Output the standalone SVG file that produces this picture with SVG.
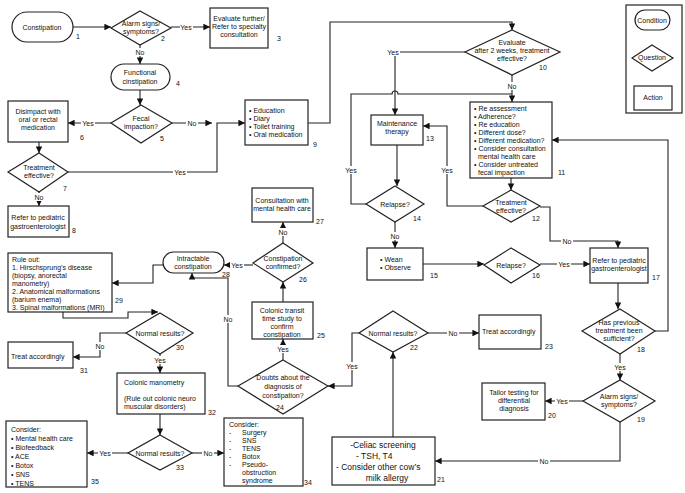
<svg xmlns="http://www.w3.org/2000/svg" width="685" height="493" viewBox="0 0 685 493">
<defs>
<marker id="a" viewBox="0 0 10 10" refX="10" refY="5" markerWidth="6" markerHeight="6" orient="auto"><path d="M0,0L10,5L0,10z" fill="#111"/></marker>
<style>
.s{fill:#fff;stroke:#222;stroke-width:1.2}
text{font-family:"Liberation Sans",Arial,sans-serif;font-size:7px;fill:#111}
.c{text-anchor:middle}
.n{font-size:7px}
.big{font-size:8.5px}
.l{fill:none;stroke:#222;stroke-width:1.1}
.lb{text-anchor:middle;font-size:7px}
.bg{fill:#fff}
</style>
</defs>
<rect width="685" height="493" fill="#fff"/>
<g id="connectors">
<path class="l" d="M73,27H111" marker-end="url(#a)"/>
<path class="l" d="M171,27H210" marker-end="url(#a)"/>
<path class="l" d="M140,45V64" marker-end="url(#a)"/>
<path class="l" d="M140,90V105" marker-end="url(#a)"/>
<path class="l" d="M111,123H68" marker-end="url(#a)"/>
<path class="l" d="M172,123H212" marker-end="url(#a)"/>
<path class="l" d="M68,172H217V123H245" marker-end="url(#a)"/>
<path class="l" d="M39,142V153" marker-end="url(#a)"/>
<path class="l" d="M39,192V206" marker-end="url(#a)"/>
<path class="l" d="M308,123H330V22H512V30" marker-end="url(#a)"/>
<path class="l" d="M465,52H395V115" marker-end="url(#a)"/>
<path class="l" d="M512,75V102" marker-end="url(#a)"/>
<path class="l" d="M366,204H351V94H392A3,3 0 0 1 398,94H512"/>
<path class="l" d="M397,145V186" marker-end="url(#a)"/>
<path class="l" d="M511,178V190" marker-end="url(#a)"/>
<path class="l" d="M483,206H447V126H423" marker-end="url(#a)"/>
<path class="l" d="M540,207H550V241H618V248" marker-end="url(#a)"/>
<path class="l" d="M395,222V248" marker-end="url(#a)"/>
<path class="l" d="M423,264H484" marker-end="url(#a)"/>
<path class="l" d="M540,264H590" marker-end="url(#a)"/>
<path class="l" d="M618,283V309" marker-end="url(#a)"/>
<path class="l" d="M655,331H668V140H552" marker-end="url(#a)"/>
<path class="l" d="M620,354V380" marker-end="url(#a)"/>
<path class="l" d="M583,401H545" marker-end="url(#a)"/>
<path class="l" d="M620,422V461H435" marker-end="url(#a)"/>
<path class="l" d="M393,437V352" marker-end="url(#a)"/>
<path class="l" d="M428,333H479" marker-end="url(#a)"/>
<path class="l" d="M359,333H352V386H328" marker-end="url(#a)"/>
<path class="l" d="M283,360V339" marker-end="url(#a)"/>
<path class="l" d="M283,302V282" marker-end="url(#a)"/>
<path class="l" d="M283,243V222" marker-end="url(#a)"/>
<path class="l" d="M253,265H224" marker-end="url(#a)"/>
<path class="l" d="M238,386H228V278H192V273" marker-end="url(#a)"/>
<path class="l" d="M163,265H153V283H112" marker-end="url(#a)"/>
<path class="l" d="M63,312V318H128V312H158" marker-end="url(#a)"/>
<path class="l" d="M126,333H100V357H73" marker-end="url(#a)"/>
<path class="l" d="M160,354V373" marker-end="url(#a)"/>
<path class="l" d="M160,414V435" marker-end="url(#a)"/>
<path class="l" d="M128,453H87" marker-end="url(#a)"/>
<path class="l" d="M192,453H224" marker-end="url(#a)"/>
<g>
<rect class="bg" x="180" y="23" width="13" height="8"/><text class="lb" x="186" y="30">Yes</text>
<rect class="bg" x="134" y="48" width="12" height="8"/><text class="lb" x="140" y="55">No</text>
<rect class="bg" x="81" y="119" width="14" height="8"/><text class="lb" x="88" y="126">Yes</text>
<rect class="bg" x="186" y="119" width="12" height="8"/><text class="lb" x="192" y="126">No</text>
<rect class="bg" x="173" y="168" width="14" height="8"/><text class="lb" x="180" y="175">Yes</text>
<rect class="bg" x="33" y="193" width="12" height="8"/><text class="lb" x="39" y="200">No</text>
<rect class="bg" x="386" y="48" width="14" height="8"/><text class="lb" x="393" y="55">Yes</text>
<rect class="bg" x="506" y="82" width="12" height="8"/><text class="lb" x="512" y="89">No</text>
<rect class="bg" x="344" y="166" width="14" height="8"/><text class="lb" x="351" y="173">Yes</text>
<rect class="bg" x="440" y="166" width="14" height="8"/><text class="lb" x="447" y="173">Yes</text>
<rect class="bg" x="561" y="237" width="12" height="8"/><text class="lb" x="567" y="244">No</text>
<rect class="bg" x="389" y="232" width="12" height="8"/><text class="lb" x="395" y="239">No</text>
<rect class="bg" x="557" y="260" width="14" height="8"/><text class="lb" x="564" y="267">Yes</text>
<rect class="bg" x="613" y="363" width="14" height="8"/><text class="lb" x="620" y="370">Yes</text>
<rect class="bg" x="555" y="397" width="14" height="8"/><text class="lb" x="562" y="404">Yes</text>
<rect class="bg" x="538" y="457" width="12" height="8"/><text class="lb" x="544" y="464">No</text>
<rect class="bg" x="447" y="329" width="12" height="8"/><text class="lb" x="453" y="336">No</text>
<rect class="bg" x="345" y="362" width="14" height="8"/><text class="lb" x="352" y="369">Yes</text>
<rect class="bg" x="276" y="345" width="14" height="8"/><text class="lb" x="283" y="352">Yes</text>
<rect class="bg" x="277" y="228" width="12" height="8"/><text class="lb" x="283" y="235">No</text>
<rect class="bg" x="230" y="261" width="14" height="8"/><text class="lb" x="237" y="268">Yes</text>
<rect class="bg" x="222" y="315" width="12" height="8"/><text class="lb" x="228" y="322">No</text>
<rect class="bg" x="94" y="342" width="12" height="8"/><text class="lb" x="100" y="349">No</text>
<rect class="bg" x="153" y="356" width="14" height="8"/><text class="lb" x="160" y="363">Yes</text>
<rect class="bg" x="98" y="449" width="14" height="8"/><text class="lb" x="105" y="456">Yes</text>
<rect class="bg" x="202" y="449" width="12" height="8"/><text class="lb" x="208" y="456">No</text>
</g>
</g>
<g id="n1"><rect class="s" x="12" y="12" width="61" height="30" rx="15"/><text class="c" x="42" y="30">Constipation</text><text x="76" y="39">1</text></g>
<g id="n2"><polygon class="s" points="140,11 171,28 140,45 111,28"/><text class="c" x="141" y="26">Alarm signs/</text><text class="c" x="141" y="34">symptoms?</text><text x="161" y="41">2</text></g>
<g id="n3"><rect class="s" x="210" y="8" width="58" height="40"/><text class="c" x="239" y="21">Evaluate further/</text><text class="c" x="239" y="29">Refer to specialty</text><text class="c" x="239" y="37">consultation</text><text x="277" y="41">3</text></g>
<g id="n4"><rect class="s" x="111" y="64" width="59" height="26" rx="13"/><text class="c" x="140" y="75">Functional</text><text class="c" x="140" y="84">cinstipation</text><text x="176" y="86">4</text></g>
<g id="n5"><polygon class="s" points="141,105 172,123 141,143 111,123"/><text class="c" x="141" y="121">Fecal</text><text class="c" x="141" y="129">impaction?</text><text x="160" y="141">5</text></g>
<g id="n6"><rect class="s" x="8" y="101" width="60" height="41"/><text class="c" x="38" y="114">Disimpact with</text><text class="c" x="38" y="122">oral or rectal</text><text class="c" x="38" y="130">medication</text><text x="80" y="140">6</text></g>
<g id="n7"><polygon class="s" points="39,153 68,172 39,192 8,172"/><text class="c" x="39" y="170">Treatment</text><text class="c" x="39" y="178">effective?</text><text x="63" y="191">7</text></g>
<g id="n8"><rect class="s" x="8" y="206" width="61" height="31"/><text class="c" x="38" y="220">Refer to pediatric</text><text class="c" x="38" y="229">gastroenterologist</text><text x="72" y="233">8</text></g>
<g id="n9"><rect class="s" x="245" y="100" width="63" height="45"/><text x="249" y="113">• Education</text><text x="249" y="121">• Diary</text><text x="249" y="129">• Toilet training</text><text x="249" y="137">• Oral medication</text><text x="313" y="147">9</text></g>
<g id="n10"><polygon class="s" points="512,30 560,52 512,75 465,52"/><text class="c" x="512" y="45">Evaluate</text><text class="c" x="512" y="53">after 2 weeks, treatment</text><text class="c" x="512" y="61">effective?</text><text x="539" y="70">10</text></g>
<g id="n11"><rect class="s" x="470" y="102" width="82" height="76"/><text x="474" y="111">• Re assessment</text><text x="474" y="119">• Adherence?</text><text x="474" y="127">• Re education</text><text x="474" y="135">• Different dose?</text><text x="474" y="143">• Different medication?</text><text x="474" y="151">• Consider consultation</text><text x="478" y="159">mental health care</text><text x="474" y="167">• Consider untreated</text><text x="478" y="175">fecal impaction</text><text x="558" y="175">11</text></g>
<g id="n12"><polygon class="s" points="511,190 540,206 511,222 483,206"/><text class="c" x="511" y="205">Treatment</text><text class="c" x="511" y="213">effective?</text><text x="532" y="221">12</text></g>
<g id="n13"><rect class="s" x="371" y="115" width="52" height="30"/><text class="c" x="397" y="126">Maintenance</text><text class="c" x="397" y="134">therapy</text><text x="426" y="141">13</text></g>
<g id="n14"><polygon class="s" points="395,186 424,204 395,222 366,204"/><text class="c" x="395" y="207">Relapse?</text><text x="413" y="221">14</text></g>
<g id="n15"><rect class="s" x="367" y="248" width="56" height="32"/><text x="380" y="262">• Wean</text><text x="380" y="270">• Observe</text><text x="430" y="278">15</text></g>
<g id="n16"><polygon class="s" points="511,248 540,265 511,283 484,265"/><text class="c" x="511" y="268">Relapse?</text><text x="532" y="278">16</text></g>
<g id="n17"><rect class="s" x="590" y="248" width="58" height="35"/><text class="c" x="619" y="263">Refer to pediatric</text><text class="c" x="619" y="271">gastroenterologist</text><text x="652" y="280">17</text></g>
<g id="n18"><polygon class="s" points="620,309 655,331 620,354 582,331"/><text class="c" x="619" y="325">Has previous</text><text class="c" x="619" y="333">treatment been</text><text class="c" x="619" y="341">sufficient?</text><text x="637" y="352">18</text></g>
<g id="n19"><polygon class="s" points="620,380 655,401 620,422 583,401"/><text class="c" x="619" y="399">Alarm signs/</text><text class="c" x="619" y="407">symptoms?</text><text x="637" y="422">19</text></g>
<g id="n20"><rect class="s" x="482" y="383" width="63" height="37"/><text class="c" x="514" y="395">Tailor testing for</text><text class="c" x="514" y="403">differential</text><text class="c" x="514" y="411">diagnosis</text><text x="548" y="418">20</text></g>
<g id="n21"><rect class="s" x="332" y="437" width="103" height="48"/><text class="big c" x="383" y="448">-Celiac screening</text><text class="big" x="356" y="459">-     TSH, T4</text><text class="big" x="336" y="470">-    Consider other cow’s</text><text class="big c" x="387" y="481">milk allergy</text><text x="437" y="482">21</text></g>
<g id="n22"><polygon class="s" points="393,311 428,333 393,352 359,333"/><text class="c" x="393" y="336">Normal results?</text><text x="410" y="350">22</text></g>
<g id="n23"><rect class="s" x="479" y="315" width="62" height="34"/><text x="482" y="334">Treat accordingly</text><text x="545" y="349">23</text></g>
<g id="n24"><polygon class="s" points="283,360 328,386 283,414 238,386"/><text class="c" x="283" y="380">Doubts about the</text><text class="c" x="283" y="389">diagnosis of</text><text class="c" x="283" y="398">constipation?</text><text x="276" y="410">24</text></g>
<g id="n25"><rect class="s" x="252" y="302" width="61" height="37"/><text class="c" x="282" y="313">Colonic transit</text><text class="c" x="282" y="321">time study to</text><text class="c" x="282" y="329">confirm</text><text class="c" x="282" y="337">constipation</text><text x="317" y="338">25</text></g>
<g id="n26"><polygon class="s" points="283,243 313,263 283,282 253,263"/><text class="c" x="283" y="261">Constipation</text><text class="c" x="283" y="269">confirmed?</text><text x="299" y="282">26</text></g>
<g id="n27"><rect class="s" x="252" y="188" width="61" height="34"/><text class="c" x="282" y="203">Consultation with</text><text class="c" x="282" y="211">mental health care</text><text x="316" y="224">27</text></g>
<g id="n28"><rect class="s" x="163" y="252" width="61" height="21" rx="10.5"/><text class="c" x="193" y="261">Intractable</text><text class="c" x="193" y="269">constipation</text><text x="222" y="277">28</text></g>
<g id="n29"><rect class="s" x="8" y="253" width="104" height="59"/><text x="12" y="262">Rule out:</text><text x="12" y="270">1. Hirschsprung’s disease</text><text x="12" y="278">(biopsy, anorectal</text><text x="12" y="286">manometry)</text><text x="12" y="294">2. Anatomical malformations</text><text x="12" y="302">(barium enema)</text><text x="12" y="310">3. Spinal malformations (MRI)</text><text x="115" y="303">29</text></g>
<g id="n30"><polygon class="s" points="160,313 193,333 160,354 126,333"/><text class="c" x="160" y="336">Normal results?</text><text x="176" y="350">30</text></g>
<g id="n31"><rect class="s" x="8" y="342" width="65" height="26"/><text x="11" y="359">Treat accordingly</text><text x="80" y="373">31</text></g>
<g id="n32"><rect class="s" x="117" y="373" width="88" height="41"/><text x="124" y="385">Colonic manometry</text><text x="124" y="401">(Rule out colonic neuro</text><text x="124" y="409">muscular disorders)</text><text x="208" y="415">32</text></g>
<g id="n33"><polygon class="s" points="160,435 192,453 160,470 128,453"/><text class="c" x="160" y="456">Normal results?</text><text x="176" y="470">33</text></g>
<g id="n34"><rect class="s" x="224" y="418" width="79" height="68"/><text x="229" y="427">Consider:</text><text x="229" y="435">-</text><text x="242" y="435">Surgery</text><text x="229" y="443">-</text><text x="242" y="443">SNS</text><text x="229" y="451">-</text><text x="242" y="451">TENS</text><text x="229" y="459">-</text><text x="242" y="459">Botox</text><text x="229" y="467">-</text><text x="242" y="467">Pseudo-</text><text x="242" y="475">obstruction</text><text x="242" y="483">syndrome</text><text x="304" y="485">34</text></g>
<g id="n35"><rect class="s" x="6" y="421" width="81" height="66"/><text x="11" y="432">Consider:</text><text x="11" y="441">• Mental health care</text><text x="11" y="450">• Biofeedback</text><text x="11" y="459">• ACE</text><text x="11" y="468">• Botox</text><text x="11" y="477">• SNS</text><text x="11" y="486">• TENS</text><text x="91" y="484">35</text></g>
<g id="legend"><rect class="s" x="626" y="5" width="56" height="108"/><rect class="s" x="635" y="10" width="35" height="20" rx="10"/><text class="c" x="652" y="23">Condition</text><polygon class="s" points="652,45 673,58 652,71 632,58"/><text class="c" x="652" y="60">Question</text><rect class="s" x="634" y="86" width="38" height="24"/><text class="c" x="653" y="100">Action</text></g>
</svg>
